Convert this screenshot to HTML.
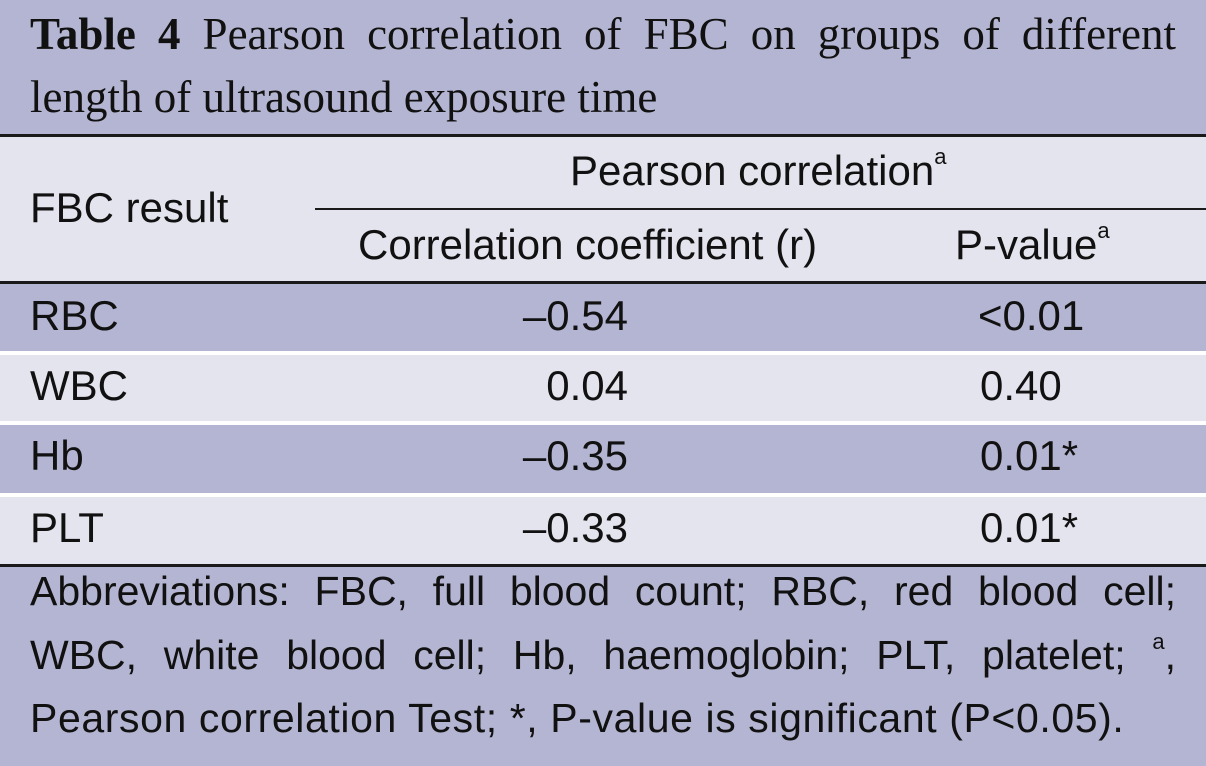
<!DOCTYPE html>
<html><head><meta charset="utf-8"><style>
body{margin:0;width:1206px;height:766px;position:relative;overflow:hidden;background:#fff;font-family:"Liberation Sans",sans-serif;color:#111;}
.band{position:absolute;left:0;width:1206px;}
.p{background:#b4b5d2;}
.l{background:#e4e4ee;}
.k{background:#1a1a1a;}
.t{position:absolute;white-space:nowrap;font-size:42px;line-height:1;}
.serif{font-family:"Liberation Serif",serif;font-size:45px;}
.just{position:absolute;left:30px;width:1146px;text-align:justify;text-align-last:justify;white-space:nowrap;font-size:41px;line-height:1;}
sup{font-size:22px;vertical-align:top;position:relative;top:-4px;}
</style></head><body>
<div class="band p" style="top:0;height:134px"></div>
<div class="band k" style="top:134px;height:3px"></div>
<div class="band l" style="top:137px;height:144px"></div>
<div class="band k" style="top:281px;height:3px"></div>
<div class="band p" style="top:284px;height:67px"></div>
<div class="band l" style="top:355px;height:66px"></div>
<div class="band p" style="top:425px;height:68px"></div>
<div class="band l" style="top:497px;height:67px"></div>
<div class="band k" style="top:564px;height:3px"></div>
<div class="band p" style="top:567px;height:199px"></div>
<div style="position:absolute;left:315px;top:208px;width:891px;height:2px;background:#1a1a1a"></div>

<div class="just serif" style="top:12px;font-size:45px"><b>Table 4</b> Pearson correlation of FBC on groups of different</div>
<div class="t serif" style="left:30px;top:75px">length of ultrasound exposure time</div>

<div class="t" style="left:30px;top:187px">FBC result</div>
<div class="t" style="left:570px;top:150px">Pearson correlation<sup>a</sup></div>
<div class="t" style="left:358px;top:224px">Correlation coefficient (r)</div>
<div class="t" style="left:955px;top:224px">P-value<sup>a</sup></div>

<div class="t" style="left:30px;top:295px">RBC</div>
<div class="t" style="right:578px;top:295px">–0.54</div>
<div class="t" style="left:978px;top:295px">&lt;0.01</div>

<div class="t" style="left:30px;top:365px">WBC</div>
<div class="t" style="right:578px;top:365px">0.04</div>
<div class="t" style="left:980px;top:365px">0.40</div>

<div class="t" style="left:30px;top:435px">Hb</div>
<div class="t" style="right:578px;top:435px">–0.35</div>
<div class="t" style="left:980px;top:435px">0.01*</div>

<div class="t" style="left:30px;top:507px">PLT</div>
<div class="t" style="right:578px;top:507px">–0.33</div>
<div class="t" style="left:980px;top:507px">0.01*</div>

<div class="just" style="top:571px">Abbreviations: FBC, full blood count; RBC, red blood cell;</div>
<div class="just" style="top:635px">WBC, white blood cell; Hb, haemoglobin; PLT, platelet; <sup>a</sup>,</div>
<div class="t" style="left:30px;top:698px;font-size:41px;letter-spacing:0.6px">Pearson correlation Test; *, P-value is significant (P&lt;0.05).</div>
</body></html>
